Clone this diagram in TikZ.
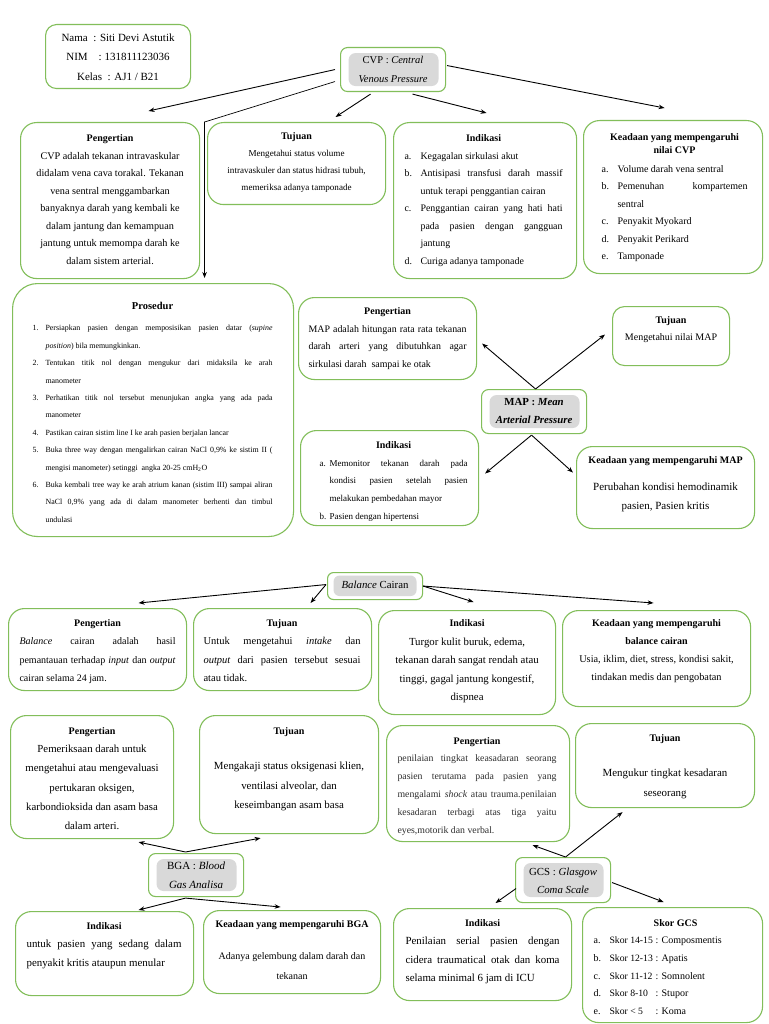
\documentclass[tikz,border=0pt]{standalone}
\usepackage{fontspec}
\setmainfont{Liberation Serif}
\usetikzlibrary{arrows.meta,calc}
\definecolor{boxgreen}{RGB}{130,190,90}
\definecolor{nodegray}{RGB}{217,217,217}
\tikzset{
  box/.style={draw=boxgreen, line width=1.1pt, rounded corners=16pt, fill=white},
  hub/.style={box, rounded corners=7pt, path picture={\fill[nodegray] ([xshift=8pt,yshift=-5.5pt]path picture bounding box.north west) rectangle ([xshift=-7pt,yshift=5.5pt]path picture bounding box.south east);}},
  hubs/.style={box, rounded corners=6pt, path picture={\fill[nodegray] ([xshift=6pt,yshift=-3pt]path picture bounding box.north west) rectangle ([xshift=-6pt,yshift=3.5pt]path picture bounding box.south east);}},
  arr/.style={draw=black, line width=0.9pt, -{Stealth[length=6pt,width=4.5pt]}},
}
\newcommand\fl{\rule{0pt}{7pt}}
\newcommand\fs[2]{\fontsize{#1}{#2}\selectfont}
\newcommand\ttl[1]{{\centering\bfseries\fs{10}{10}\fl #1\par}}
\newcommand\li[3]{\par\hangindent=#1\hangafter=1\noindent\makebox[#1][l]{#2}#3\par}
\newcommand\sk[3]{\par\noindent\makebox[16pt][l]{#1}\makebox[46pt][l]{\fs{9.7}{17.75}#2}: #3\par}
% #1 options, #2 name, #3 x, #4 y, #5 w, #6 h, #7 padL, #8 padR, #9 content
\newcommand\bx[9]{%
  \pgfmathsetmacro\bxw{#5-#7-#8}%
  \pgfmathsetmacro\bxo{#7-#8}%
  \node[box,#1,anchor=north west,inner xsep=#8pt,inner ysep=0pt,minimum width=#5pt,minimum height=#6pt] (#2) at (#3,#4)
  {\hspace*{\bxo pt}\parbox[c][#6pt][t]{\bxw pt}{\hyphenpenalty=10000 \exhyphenpenalty=10000 #9}};}
\begin{document}
\begin{tikzpicture}[x=1pt,y=-1pt]
\fill[white] (0,0) rectangle (768,1024);
\useasboundingbox (0,0) rectangle (768,1024);

% ---------- CVP ----------
\bx{rounded corners=11pt}{nama}{45}{24}{145}{64}{5}{5}{\vspace*{9pt}\fs{11}{19.5}\centering\fl Nama~~: Siti Devi Astutik\\NIM~~~~: 131811123036\\Kelas~~: AJ1 / B21\par}
\bx{hub}{cvp}{340}{47}{105}{44}{5}{5}{\vspace*{9pt}\fs{10.5}{19}\centering\fl CVP : \textit{Central}\\\textit{Venous Pressure}\par}
\bx{}{cvpPeng}{20}{122}{179}{156}{5}{5}{\vspace*{12pt}\fs{10.2}{17.5}\ttl{Pengertian}\centering CVP adalah tekanan intravaskular\\didalam vena cava torakal. Tekanan\\vena sentral menggambarkan\\banyaknya darah yang kembali ke\\dalam jantung dan kemampuan\\jantung untuk memompa darah ke\\dalam sistem arterial.\par}
\bx{}{cvpTuj}{207}{122}{178}{82}{5}{5}{\vspace*{10pt}\fs{9.1}{17}\ttl{Tujuan}\centering Mengetahui status volume\\intravaskuler dan status hidrasi tubuh,\\memeriksa adanya tamponade\par}
\bx{}{cvpInd}{393}{122}{183}{156}{11}{14}{\vspace*{12pt}\fs{9.9}{17.5}\ttl{Indikasi}\li{16pt}{a.}{Kegagalan sirkulasi akut}\li{16pt}{b.}{Antisipasi transfusi darah massif \linebreak untuk terapi penggantian cairan}\li{16pt}{c.}{Penggantian cairan yang hati hati \linebreak pada pasien dengan gangguan \linebreak jantung}\li{16pt}{d.}{Curiga adanya tamponade}}
\bx{}{cvpKead}{583}{120}{179}{153}{18}{15}{\vspace*{13pt}\fs{10}{17.4}{\centering\bfseries\fs{10}{13}\fl Keadaan yang mempengaruhi\\nilai CVP\par}\vspace{1.6pt}\li{16pt}{a.}{Volume darah vena sentral}\li{16pt}{b.}{Pemenuhan kompartemen \linebreak sentral}\li{16pt}{c.}{Penyakit Myokard}\li{16pt}{d.}{Penyakit Perikard}\li{16pt}{e.}{Tamponade}}
\bx{rounded corners=25pt}{prosedur}{12}{283}{281}{253}{20}{21}{\vspace*{19pt}\fs{7.9}{17.4}{\centering\bfseries\fs{10.5}{10.5}\fl Prosedur\par}\vspace{3.6pt}\li{13pt}{1.}{Persiapkan pasien dengan memposisikan pasien datar (\textit{supine} \linebreak \textit{position}) bila memungkinkan.}\li{13pt}{2.}{Tentukan titik nol dengan mengukur dari midaksila ke arah \linebreak manometer}\li{13pt}{3.}{Perhatikan titik nol tersebut menunjukan angka yang ada pada \linebreak manometer}\li{13pt}{4.}{Pastikan cairan sistim line I ke arah pasien berjalan lancar}\li{13pt}{5.}{Buka three way dengan mengalirkan cairan NaCl 0,9\% ke sistim II ( \linebreak mengisi manometer) setinggi\ \ angka 20-25 cmH\textsubscript{2}O}\li{13pt}{6.}{Buka kembali tree way ke arah atrium kanan (sistim III) sampai aliran \linebreak NaCl 0,9\% yang ada di dalam manometer berhenti dan timbul \linebreak undulasi}}

% ---------- MAP ----------
\bx{}{mapPeng}{298}{297}{178}{82}{10}{10}{\vspace*{10pt}\fs{9.9}{17.5}\ttl{Pengertian}MAP adalah hitungan rata rata tekanan \linebreak darah arteri yang dibutuhkan agar \linebreak sirkulasi darah\ \ sampai ke otak\par}
\bx{rounded corners=12pt}{mapTuj}{612}{306}{117}{59}{4}{4}{\vspace*{10pt}\fs{10}{17}\ttl{Tujuan}\centering Mengetahui nilai MAP\par}
\bx{hub}{mapNode}{481}{389}{105}{44}{4}{4}{\vspace*{9pt}\fs{10.8}{18}\centering\bfseries\fl MAP : \textit{Mean}\\\textit{Arterial Pressure}\par}
\bx{}{mapInd}{300}{430}{178}{95}{19}{11}{\vspace*{11pt}\fs{9}{17.7}\ttl{Indikasi}\li{10pt}{a.}{Memonitor tekanan darah pada \linebreak kondisi pasien setelah pasien \linebreak melakukan pembedahan mayor}\li{10pt}{b.}{Pasien dengan hipertensi}}
\bx{}{mapKead}{576}{446}{178}{82}{4}{4}{\vspace*{10pt}\fs{11}{19}\ttl{Keadaan yang mempengaruhi MAP}\vspace{8pt}\centering Perubahan kondisi hemodinamik\\pasien, Pasien kritis\par}

% ---------- Balance ----------
\bx{hubs}{balNode}{327}{572}{95}{27}{3}{3}{\vspace*{8pt}\fs{10.8}{18}\centering\fl\textit{Balance} Cairan\par}
\bx{}{balPeng}{8}{608}{178}{82}{11}{11}{\vspace*{11pt}\fs{10}{18.3}\ttl{Pengertian}\textit{Balance} cairan adalah hasil \linebreak pemantauan terhadap \textit{input} dan \textit{output} \linebreak cairan selama 24 jam.\par}
\bx{}{balTuj}{193}{608}{178}{82}{10}{11}{\vspace*{11pt}\fs{10.5}{18.3}\ttl{Tujuan}Untuk mengetahui \textit{intake} dan \linebreak \textit{output} dari pasien tersebut sesuai \linebreak atau tidak.\par}
\bx{}{balInd}{378}{610}{177}{104}{4}{4}{\vspace*{9pt}\fs{10.8}{18.5}\ttl{Indikasi}\centering Turgor kulit buruk, edema,\\tekanan darah sangat rendah atau\\tinggi, gagal jantung kongestif,\\dispnea\par}
\bx{}{balKead}{562}{610}{188}{96}{4}{4}{\vspace*{9pt}\fs{10.3}{18}{\centering\bfseries\fs{10}{18}\fl Keadaan yang mempengaruhi\\balance cairan\par}\centering Usia, iklim, diet, stress, kondisi sakit,\\tindakan medis dan pengobatan\par}

% ---------- BGA ----------
\bx{}{bgaPeng}{10}{715}{163}{123}{3}{3}{\vspace*{12pt}\fs{10.8}{19.25}\ttl{Pengertian}\vspace{-1.25pt}\centering Pemeriksaan darah untuk\\mengetahui atau mengevaluasi\\pertukaran oksigen,\\karbondioksida dan asam basa\\dalam arteri.\par}
\bx{}{bgaTuj}{199}{715}{179}{118}{4}{4}{\vspace*{12pt}\fs{10.9}{19.5}\ttl{Tujuan}\vspace{15.5pt}\centering Mengakaji status oksigenasi klien,\\ventilasi alveolar, dan\\keseimbangan asam basa\par}
\bx{hub}{bgaNode}{148}{853}{95}{43}{3}{3}{\vspace*{8pt}\fs{11}{19}\centering\fl BGA : \textit{Blood}\\\textit{Gas Analisa}\par}
\bx{}{bgaInd}{15}{911}{178}{84}{11}{12}{\vspace*{11pt}\fs{10.9}{18.5}\ttl{Indikasi}\vspace{-0.5pt}untuk pasien yang sedang dalam \linebreak penyakit kritis ataupun menular\par}
\bx{}{bgaKead}{203}{910}{177}{83}{4}{4}{\vspace*{10pt}\fs{10}{20}\ttl{Keadaan yang mempengaruhi BGA}\vspace{12pt}\centering Adanya gelembung dalam darah dan\\tekanan\par}

% ---------- GCS ----------
\bx{}{gcsPeng}{386}{725}{183}{116}{11}{13}{\vspace*{12pt}\fs{9.8}{18}\ttl{Pengertian}\vspace{-1pt}\leavevmode\color{black!82}penilaian tingkat keasadaran seorang \linebreak pasien terutama pada pasien yang \linebreak mengalami \textit{shock} atau trauma.penilaian \linebreak kesadaran terbagi atas tiga yaitu \linebreak eyes,motorik dan verbal.\par}
\bx{}{gcsTuj}{575}{723}{179}{84}{4}{4}{\vspace*{11pt}\fs{10.9}{20}\ttl{Tujuan}\vspace{15pt}\centering Mengukur tingkat kesadaran\\seseorang\par}
\bx{hub}{gcsNode}{515}{857}{95}{45}{3}{3}{\vspace*{10pt}\fs{10.8}{18}\centering\fl GCS : \textit{Glasgow}\\\textit{Coma Scale}\par}
\bx{}{gcsInd}{393}{908}{178}{92}{12}{12}{\vspace*{11pt}\fs{10.9}{18.5}\ttl{Indikasi}\vspace{-0.5pt}Penilaian serial pasien dengan \linebreak cidera traumatical otak dan koma \linebreak selama minimal 6 jam di ICU\par}
\bx{}{gcsSkor}{582}{907}{180}{115}{11}{5}{\vspace*{12pt}\fs{10}{17.75}\ttl{Skor GCS}\vspace{-0.75pt}\sk{a.}{Skor 14-15}{Composmentis}\sk{b.}{Skor 12-13}{Apatis}\sk{c.}{Skor 11-12}{Somnolent}\sk{d.}{Skor 8-10}{Stupor}\sk{e.}{Skor < 5}{Koma}}

% ---------- connectors ----------
\coordinate (pA) at ($(prosedur.north)+(51.5,-5)$);
\draw[arr] ([xshift=-5pt]cvp.west) -- ($(cvpPeng.north)+(38.5,-11)$);
\draw[arr, line width=0.7pt] ($(cvp.west)+(-5,12)$) -- (pA |- cvpPeng.north) -- (pA);
\draw[arr] ($(cvp.south)+(-22.5,2)$) -- ($(cvpTuj.north)+(39,-5)$);
\draw[arr] ($(cvp.south)+(19.5,2)$) -- ($(cvpInd.north)+(1.5,-9)$);
\draw[arr] ($(cvp.east)+(1,-4)$) -- ($(cvpKead.north)+(-8.5,-12)$);

\draw[arr] ($(mapNode.north)+(1.5,0)$) -- ($(mapPeng.east)+(5,5)$);
\draw[arr] ($(mapNode.north)+(1.5,0)$) -- ($(mapTuj.west)+(-7,-1.5)$);
\draw[arr] ($(mapNode.south)+(-2.5,1)$) -- ($(mapInd.east)+(6,-4.5)$);
\draw[arr] ($(mapNode.south)+(-2.5,1)$) -- ($(mapKead.west)+(-3,-15)$);

\draw[arr] ($(balNode.west)+(-1,-1.5)$) -- ($(balPeng.north)+(41,-5)$);
\draw[arr] ($(balNode.west)+(-1,-1.5)$) -- ($(balTuj.north)+(28,-5)$);
\draw[arr] (balNode.east) -- ($(balInd.north)+(6.5,-8)$);
\draw[arr] (balNode.east) -- ($(balKead.north)+(-3,-7)$);

\draw[arr] ($(bgaNode.north)+(-10.5,-1)$) -- ($(bgaPeng.south)+(46.5,3)$);
\draw[arr] ($(bgaNode.north)+(-10.5,-1)$) -- ($(bgaTuj.south)+(-28.5,4)$);
\draw[arr] ($(bgaNode.south)+(-10.5,1)$) -- ($(bgaInd.north)+(34,-1)$);
\draw[arr] ($(bgaNode.south)+(-10.5,1)$) -- ($(bgaKead.north)+(-11.5,-3)$);

\draw[arr] ($(gcsNode.north)+(2.5,0)$) -- ($(gcsPeng.south)+(54.5,3)$);
\draw[arr] ($(gcsNode.north)+(2.5,0)$) -- ($(gcsTuj.south)+(-42.5,4)$);
\draw[arr] ($(gcsNode.west)+(1,8.5)$) -- ($(gcsInd.north)+(13,-5)$);
\draw[arr] ($(gcsNode.east)+(1,2.5)$) -- ($(gcsSkor.north)+(-9,-5)$);
\end{tikzpicture}
\end{document}
